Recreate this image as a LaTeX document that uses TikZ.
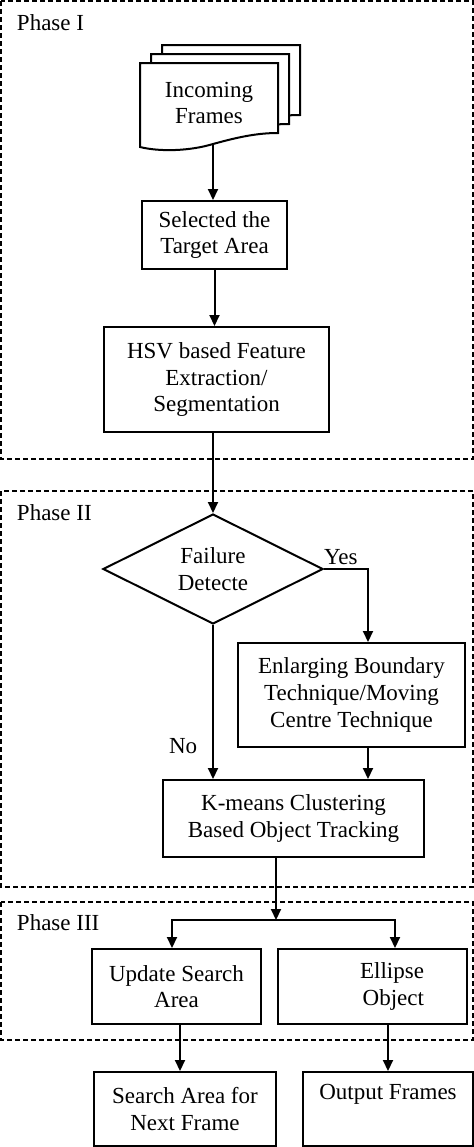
\documentclass[tikz,border=0pt]{standalone}
\usepackage{fontspec}
\setmainfont{Liberation Serif}
\usetikzlibrary{shapes.geometric,arrows.meta}
\tikzset{
every picture/.style={
line width=1pt
}}

\begin{document}
\begin{tikzpicture}[x=0.5pt, y=-0.5pt,
font=\fontsize{11.5}{13.3}\selectfont,
stage/.style = {rectangle, draw=black, align=center, inner sep=0pt},
decision/.style = {diamond, draw=black, align=center, inner sep=0pt, aspect=2},
phase/.style = {draw=black, dash pattern=on 2.5pt off 1.5pt},
tag/.style = {anchor=base west, inner sep=0pt},
flow/.style = {-{Triangle[length=5.5pt,width=5pt]}}]
\useasboundingbox (0,0) rectangle (474,1147);

% phase frames
\draw[phase] (1,1) rectangle (473,459);
\draw[phase] (1,491) rectangle (473,887);
\draw[phase] (1,902) rectangle (473,1040);
\node[tag] (p1) at (16,30) {Phase I};
\node[tag] (p2) at (16,520) {Phase II};
\node[tag] (p3) at (16,930) {Phase III};

% stack of incoming frames
\foreach \d in {2,1,0}
  \draw[fill=white, shift={(11*\d,-9*\d)}] (140,63) -- (278,63) -- (278,133)
    .. controls (255,133) and (235,138) .. (213,144)
    .. controls (190,151) and (160,152) .. (140,147) -- cycle;
\node[align=center] (frames) at (209,103) {Incoming\\Frames};
\coordinate (framesout) at (213,144);

\node[stage, minimum width=72.5pt, minimum height=34pt] (select) at (214.5,235) {Selected the\\Target Area};
\node[stage, minimum width=112.5pt, minimum height=52.5pt] (hsv) at (216.5,379.5) {HSV based Feature\\Extraction/\\Segmentation};

\node[decision, minimum width=110pt, minimum height=55pt] (decide) at (213,569) {Failure\\Detecte};
\node[stage, minimum width=113.5pt, minimum height=52pt] (enlarge) at (351.5,695) {Enlarging Boundary\\Technique/Moving\\Centre Technique};
\node[stage, minimum width=130.5pt, minimum height=38.5pt] (kmeans) at (293.5,818.5) {K-means Clustering\\Based Object Tracking};
\coordinate (yesturn) at (368,569);

\node[stage, minimum width=84.5pt, minimum height=37.5pt] (update) at (176.5,986.5) {Update Search\\Area};
\node[stage, minimum width=94.5pt, minimum height=37.5pt, text width=51.5pt, align=right] (ellipse) at (372.5,986.5) {Ellipse\\Object};
\node[stage, minimum width=91pt, minimum height=37pt] (next) at (185,1109) {Search Area for\\Next Frame};
\node[stage, minimum width=85pt, minimum height=37pt] (output) at (388,1109) {Output Frames\\\strut};
\coordinate (split) at (276,920);
\coordinate (leftdrop) at (172,920);
\coordinate (rightdrop) at (395,920);

\draw[flow] (framesout) -- (framesout |- select.north);
\draw[flow] (select.south) -- (select.south |- hsv.north);
\draw[flow] (decide.north |- hsv.south) -- (decide.north);
\draw[flow] (decide.east) -- (yesturn) -- (yesturn |- enlarge.north);
\draw[flow] (yesturn |- enlarge.south) -- (yesturn |- kmeans.north);
\draw[flow] (decide.south) -- (decide.south |- kmeans.north);
\node[tag] (yes) at (323,564) {Yes};
\node[tag] (no) at (168,753) {No};

\draw[flow] (split |- kmeans.south) -- (split);
\draw[flow] (split) -- (leftdrop) -- (leftdrop |- update.north);
\draw[flow] (split) -- (rightdrop) -- (rightdrop |- ellipse.north);
\draw[flow] ([xshift=1.75pt]update.south) -- ([xshift=1.75pt]update.south |- next.north);
\draw[flow] (output.north |- ellipse.south) -- (output.north);
\end{tikzpicture}
\end{document}
